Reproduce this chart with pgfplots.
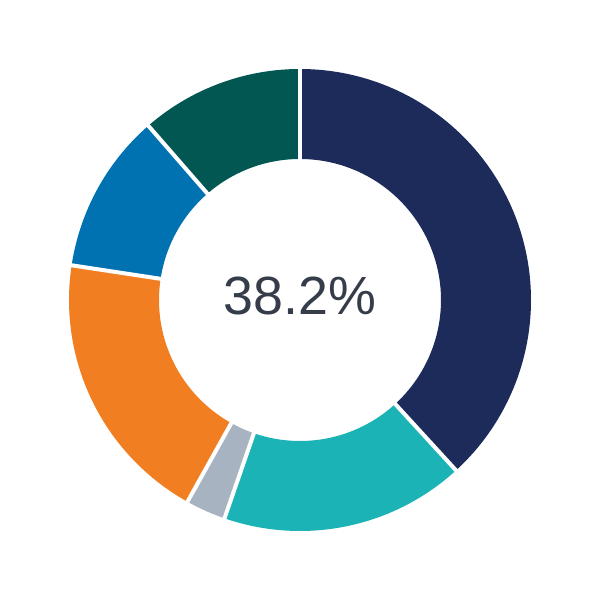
\documentclass[border=0pt]{standalone}
\usepackage{pgfplots}
\pgfplotsset{compat=1.18}
\usepackage{pgfplotstable}
\usepackage{fontspec}
\setmainfont{Liberation Sans}

\definecolor{cNavy}{HTML}{1D2B5B}
\definecolor{cTeal}{HTML}{1CB3B6}
\definecolor{cSlate}{HTML}{A8B3C1}
\definecolor{cOrange}{HTML}{F27E22}
\definecolor{cBlue}{HTML}{0072B2}
\definecolor{cPine}{HTML}{025752}
\definecolor{labelgray}{HTML}{363D4A}

% shares in percent, clockwise from 12 o'clock
\pgfplotstableread{
share col
38.2  cNavy
17.1  cTeal
2.8   cSlate
19.3  cOrange
11.2  cBlue
11.4  cPine
}\donut

\begin{document}
\begin{tikzpicture}
\begin{axis}[
    width=300bp, height=300bp,
    scale only axis,
    xmin=-300, xmax=300,
    ymin=-300, ymax=300,
    hide axis,
    clip=false,
]
% keep the full square as the picture's extent
\addplot[draw=none] coordinates {(-300,-300) (300,300)};
\pgfplotstablegetrowsof{\donut}
\pgfmathtruncatemacro\last{\pgfplotsretval-1}
\def\cum{0}
% ring segments (mid radius 186, ring width 90)
\pgfplotsforeachungrouped \i in {0,...,\last}{
    \pgfplotstablegetelem{\i}{share}\of\donut \let\s\pgfplotsretval
    \pgfplotstablegetelem{\i}{col}\of\donut \let\c\pgfplotsretval
    \pgfmathsetmacro\ta{90-3.6*(\cum+\s)}
    \pgfmathsetmacro\tb{90-3.6*\cum}
    \edef\temp{\noexpand\addplot[draw=\c, line width=45bp, domain=\ta:\tb, samples=90]
        ({186*cos(x)},{186*sin(x)});}
    \temp
    \pgfmathsetmacro\cum{\cum+\s}
}
% white gaps between segments
\def\cum{0}
\pgfplotsforeachungrouped \i in {0,...,\last}{
    \pgfplotstablegetelem{\i}{share}\of\donut \let\s\pgfplotsretval
    \pgfmathsetmacro\ta{90-3.6*\cum}
    \edef\temp{\noexpand\addplot[draw=white, line width=2bp, domain=136:236, samples=2]
        ({x*cos(\ta)},{x*sin(\ta)});}
    \temp
    \pgfmathsetmacro\cum{\cum+\s}
}
\node[text=labelgray, font=\fontsize{27}{30}\selectfont] at (axis cs:0,4) {38.2\%};
\end{axis}
\end{tikzpicture}
\end{document}
